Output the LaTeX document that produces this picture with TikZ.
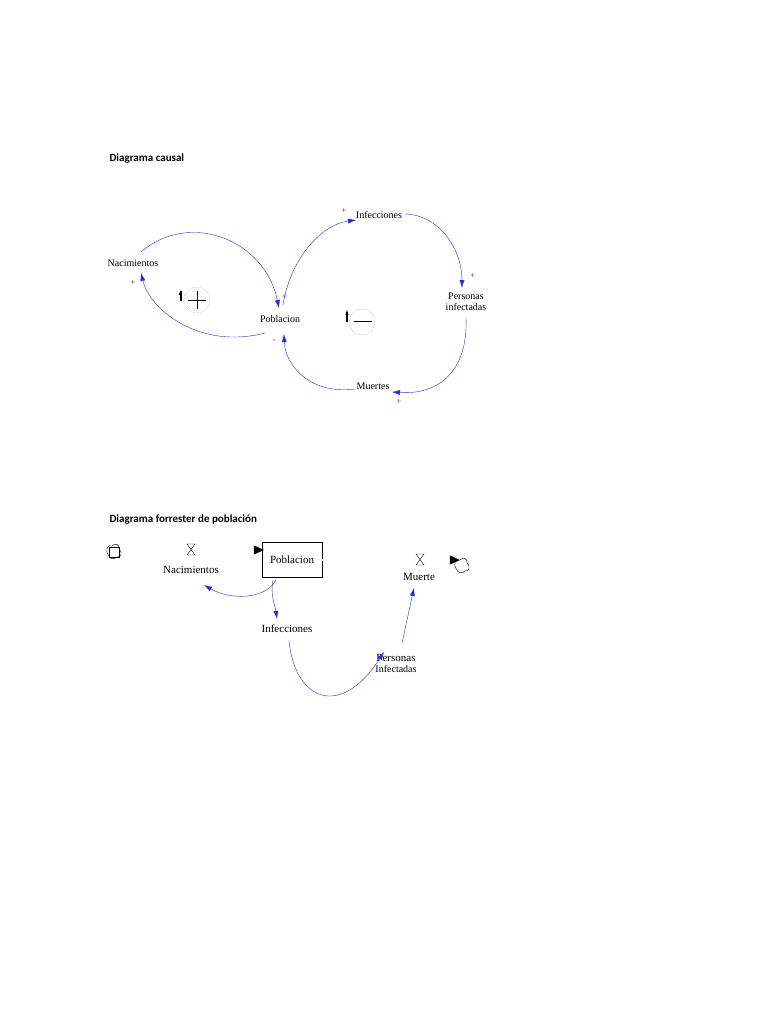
\documentclass[tikz,border=0pt]{standalone}
\usepackage{fontspec}
\setmainfont{Liberation Serif}
\newfontfamily\titlefont{Carlito}
\usetikzlibrary{arrows.meta}
\definecolor{lk}{RGB}{40,40,230}
\tikzset{
  lbl/.style={font=\fontsize{10}{11}\selectfont,inner sep=1pt,align=center},
  ttl/.style={font=\titlefont\bfseries\fontsize{11}{13}\selectfont,anchor=west},
  link/.style={draw=lk,thin,-{Latex[length=8pt,width=5pt]}},
  pol/.style={text=lk,font=\fontsize{9}{9}\selectfont,inner sep=0pt},
  pipe/.style={double distance=2pt,thin,-{Triangle[length=10pt,width=9pt]},shorten >=-2pt},
}
\begin{document}
\begin{tikzpicture}[x=1pt,y=-1pt]
\useasboundingbox (0,0) rectangle (768,1024);
\node[ttl] (t1) at (106,159) {Diagrama causal};
\node[lbl] (nac) at (133,263) {Nacimientos};
\node[lbl] (pob) at (280,319) {Poblacion};
\node[lbl] (inf) at (379,215) {Infecciones};
\node[lbl] (per) at (466,302) {Personas\\infectadas};
\node[lbl] (mue) at (373,386) {Muertes};
\draw[link] (265,333) .. controls (200,350) and (150,310) .. (141,273);
\draw[link] (141,252) .. controls (190,210) and (265,240) .. (279,308);
\draw[link] (283,305) .. controls (290,260) and (320,225) .. (356,220);
\draw[link] (405,214) .. controls (440,215) and (462,250) .. (462,288);
\draw[link] (466,318) .. controls (468,370) and (440,395) .. (392,392);
\draw[link] (355,389) .. controls (310,395) and (285,365) .. (284,334);
\node[pol] (p1) at (344,211) {+};
\node[pol] (p2) at (473,276) {+};
\node[pol] (p3) at (285,297) {+};
\node[pol] (p4) at (274,341) {-};
\node[pol] (p5) at (133,283) {+};
\node[pol] (p6) at (399,402) {+};
% loop icons
\draw[gray,densely dotted] (197,300) circle (13);
\draw[thick] (188,300) -- (206,300) (197,291) -- (197,309);
\fill (180,302) -- (180,292) -- (178.5,295) -- (181.5,295) -- (180,290) -- cycle;
\draw[very thick] (181,301) -- (181,291);
\draw[gray,densely dotted] (362,322) circle (13);
\draw[thick] (354,321) -- (372,321);
\draw[very thick] (347,322) -- (347,312);
\fill (345.5,315) -- (347,310) -- (348.5,315) -- cycle;
% forrester
\node[ttl] (t2) at (106,520) {Diagrama forrester de población};
\node[draw,minimum width=60,minimum height=35,lbl,inner sep=0pt] (box) at (292,559.5) {\fontsize{11}{12}\selectfont Poblacion};
\node[draw,cloud/.style={},minimum size=10,inner sep=0] (c1) at (114,552) {};
\node[lbl] (nac2) at (191,570) {\fontsize{11}{12}\selectfont Nacimientos};
\node[lbl] (mue2) at (419,577) {\fontsize{11}{12}\selectfont Muerte};
\node[lbl] (inf2) at (287,629) {\fontsize{11}{12}\selectfont Infecciones};
\node[lbl] (per2) at (396,663) {\fontsize{11}{12}\selectfont Personas\\Infectadas};
\node[minimum size=10,inner sep=0] (c2) at (463,566) {};
\draw[pipe] (120,550) -- (box.west|-0,550);
\draw[pipe] (box.east|-0,560) -- (c2.west|-0,560);
% clouds
\draw[thin] (109,556) .. controls (104,550) and (108,544) .. (112,546) .. controls (115,542) and (120,545) .. (119,549) .. controls (123,552) and (121,558) .. (117,557) .. controls (114,560) and (110,559) .. (109,556);
\draw[thin] (457,570) .. controls (452,564) and (456,558) .. (460,560) .. controls (463,556) and (468,559) .. (467,563) .. controls (471,566) and (469,572) .. (465,571) .. controls (462,574) and (458,573) .. (457,570);
% valves
\draw[fill=white] (187,544) -- (195,544) -- (187,555) -- (195,555) -- cycle;
\draw[fill=white] (416,554) -- (424,554) -- (416,565) -- (424,565) -- cycle;
\draw[link] (276,580) .. controls (265,600) and (230,600) .. (204,585);
\draw[link] (273,580) .. controls (270,595) and (275,605) .. (277,619);
\draw[link] (289,641) .. controls (295,700) and (340,720) .. (384,652);
\draw[link] (402,643) -- (414,588);
\end{tikzpicture}
\end{document}
